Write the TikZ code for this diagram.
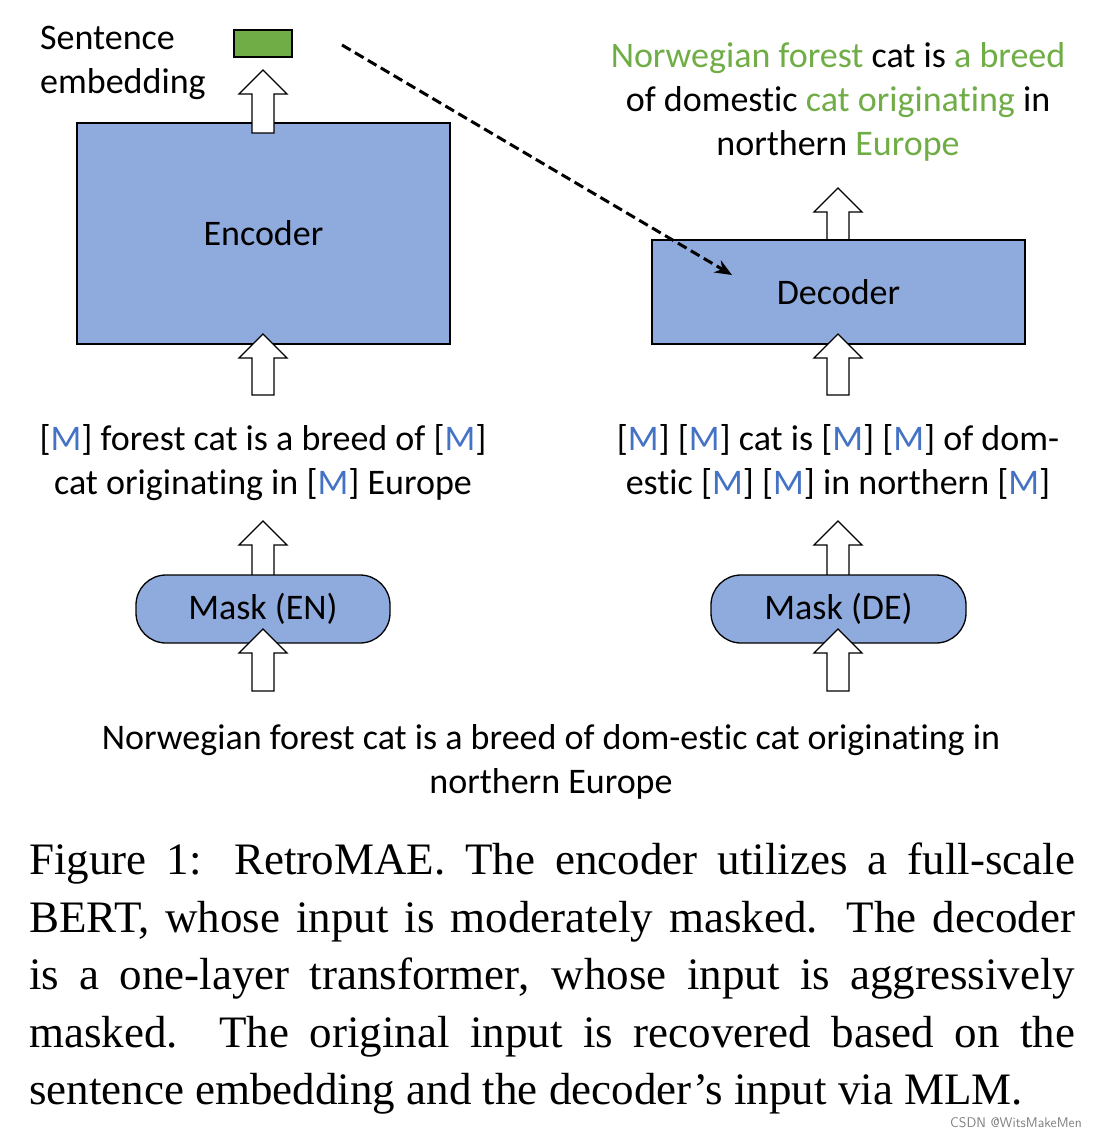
\documentclass[tikz,border=0pt]{standalone}
\usepackage{fontspec}
\setmainfont{Carlito}[Ligatures=NoCommon]
\newfontfamily\capfont{Liberation Serif}
\usetikzlibrary{arrows.meta}
\definecolor{gr}{HTML}{70AD47}
\definecolor{bx}{HTML}{8FAADC}
\definecolor{mb}{HTML}{4472C4}
\newcommand\Mk{[{\color{mb}M}]}
\newcommand\uparr[3]{\draw[line width=1.3pt,fill=white] ({#1-11},#3) -- ({#1-11},{#2+24}) -- ({#1-24},{#2+24}) -- (#1,#2) -- ({#1+24},{#2+24}) -- ({#1+11},{#2+24}) -- ({#1+11},#3) -- cycle;}
\tikzset{
 blk/.style={draw,line width=1.3pt,fill=bx,inner sep=0pt},
 txt/.style={font=\fontsize{36}{44}\selectfont,inner sep=0pt,anchor=base},
}
\begin{document}
\begin{tikzpicture}[x=1pt,y=-1pt]
\useasboundingbox (0,0) rectangle (1096,1136);
% left column
\node[txt,anchor=base west] (se1) at (40,49) {Sentence};
\node[txt,anchor=base west] (se2) at (40,93) {embedding};
\draw[line width=1.3pt,fill=gr] (234,30) rectangle (292,57);
\node[blk,minimum width=373pt,minimum height=221pt] (enc) at (263.5,233.5) {};
\node[txt,anchor=center] at (enc) {Encoder};
\uparr{263}{70}{133}
\uparr{263}{334}{395}
\node[txt] (lt1) at (263,450) {\Mk{} forest cat is a breed of \Mk};
\node[txt] (lt2) at (263,494) {cat originating in \Mk{} Europe};
\uparr{263}{521}{582}
\node[blk,rounded corners=30pt,minimum width=254pt,minimum height=68pt] (men) at (263,609) {};
\node[txt,anchor=center] at (men) {Mask (EN)};
\uparr{263}{629}{691}
% right column
\node[txt] (g1) at (838,67) {{\color{gr}Norwegian forest} cat is {\color{gr}a breed}};
\node[txt] (g2) at (838,111) {of domestic {\color{gr}cat originating} in};
\node[txt] (g3) at (838,155) {northern {\color{gr}Europe}};
\uparr{838}{188}{249}
\node[blk,minimum width=373pt,minimum height=104pt] (dec) at (838.5,292) {};
\node[txt,anchor=center] at (dec) {Decoder};
\uparr{838}{334}{395}
\node[txt] (rt1) at (838,450) {\Mk{} \Mk{} cat is \Mk{} \Mk{} of dom-};
\node[txt] (rt2) at (838,494) {estic \Mk{} \Mk{} in northern \Mk};
\uparr{838}{521}{582}
\node[blk,rounded corners=30pt,minimum width=255pt,minimum height=68pt] (mde) at (838.5,609) {};
\node[txt,anchor=center] at (mde) {Mask (DE)};
\uparr{838}{629}{691}
% bottom
\node[txt] (b1) at (551,749) {Norwegian forest cat is a breed of dom-estic cat originating in};
\node[txt] (b2) at (551,793) {northern Europe};
\coordinate (ds) at (342,45);
\coordinate (de) at (732,275);
\draw[line width=3pt,dash pattern=on 10pt off 5pt,-{Stealth[length=17pt,width=14pt]}] (ds) -- (de);
% caption
\node[anchor=north west,inner sep=0pt,text width=1046pt,align=justify,font=\capfont\fontsize{45}{57.5}\selectfont] (cap) at (29,843)
 {Figure 1: RetroMAE. The encoder utilizes a full-scale\linebreak BERT, whose input is moderately masked. The decoder\linebreak is a one-layer transformer, whose input is aggressively\linebreak masked.\ \ The original input is recovered based on the\linebreak sentence embedding and the decoder’s input via MLM.};
\node[anchor=south east,inner sep=2pt,text=gray,font=\sffamily\fontsize{14}{16}\selectfont] (wm) at (1084,1130) {CSDN @WitsMakeMen};
\end{tikzpicture}
\end{document}
